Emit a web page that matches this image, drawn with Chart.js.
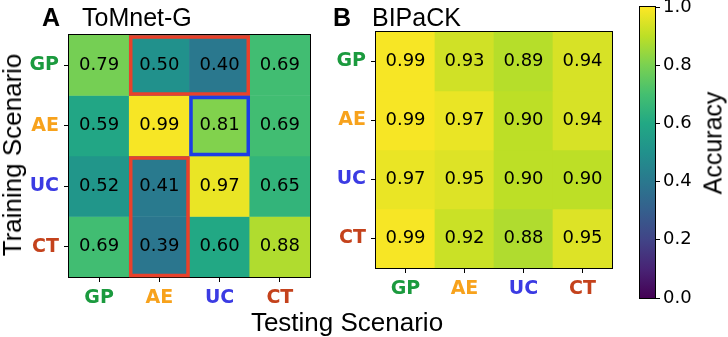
<!DOCTYPE html>
<html>
<head>
<meta charset="utf-8">
<script src="https://cdn.jsdelivr.net/npm/chart.js@4.4.1/dist/chart.umd.min.js"></script>
<style>
  body { margin: 0; background: #fff; }
  #wrap { position: relative; width: 728px; height: 337px; overflow: hidden; }
  canvas { position: absolute; top: 0; }
  .txt { position: absolute; font-family: "Liberation Sans", Arial, sans-serif; font-size: 25px; line-height: 25px; color: #000; white-space: nowrap; }
  .bold { font-weight: bold; }
  .rot { transform: translate(-50%, -50%) rotate(-90deg); }
</style>
</head>
<body>
<div id="wrap">
  <canvas id="chartA" width="320" height="337" style="left:0"></canvas>
  <canvas id="chartB" width="310" height="337" style="left:320px"></canvas>
  <canvas id="cbar" width="108" height="337" style="left:620px"></canvas>

  <div class="txt bold" style="left:42px; top:5px">A</div>
  <div class="txt" style="left:82px; top:5px">ToMnet-G</div>
  <div class="txt bold" style="left:333px; top:5px">B</div>
  <div class="txt" style="left:372px; top:5px">BIPaCK</div>
  <div class="txt rot" style="left:12px; top:155px; font-size:26px; line-height:26px">Training Scenario</div>
  <div class="txt" style="left:347px; top:309px; font-size:26px; line-height:26px; transform:translateX(-50%)">Testing Scenario</div>
  <div class="txt rot" style="left:713px; top:143px">Accuracy</div>
</div>
<script>
// scenarios on each axis
var testing = ['GP', 'AE', 'UC', 'CT'];
var training = ['GP', 'AE', 'UC', 'CT'];
var scenarioColors = ['#1b9a3e', '#f7a21c', '#3b3be3', '#c4421c'];

// accuracy, one row per training scenario
var tomnetAcc = [
    [0.79, 0.50, 0.40, 0.69],
    [0.59, 0.99, 0.81, 0.69],
    [0.52, 0.41, 0.97, 0.65],
    [0.69, 0.39, 0.60, 0.88]
];
var bipackAcc = [
    [0.99, 0.93, 0.89, 0.94],
    [0.99, 0.97, 0.90, 0.94],
    [0.97, 0.95, 0.90, 0.90],
    [0.99, 0.92, 0.88, 0.95]
];

// highlighted cell groups in ToMnet-G (row/col index ranges)
var highlights = [
    { rows: [0, 0], cols: [1, 2], kind: 'drop' },
    { rows: [2, 3], cols: [1, 1], kind: 'drop' },
    { rows: [1, 1], cols: [2, 2], kind: 'gain' }
];
var highlightColors = { drop: '#e9412b', gain: '#1c3de6' };

var cbarTicks = [0, 0.2, 0.4, 0.6, 0.8, 1.0];

// viridis colormap
var viridisStops = ['#440154', '#482475', '#414487', '#355f8d', '#2a788e', '#21918c',
                    '#22a884', '#44bf70', '#7ad151', '#bddf26', '#fde725'];
function hexToRgb(h) {
    return [parseInt(h.substr(1, 2), 16), parseInt(h.substr(3, 2), 16), parseInt(h.substr(5, 2), 16)];
}
function viridis(v) {
    v = Math.max(0, Math.min(1, v));
    var pos = v * (viridisStops.length - 1);
    var i = Math.min(Math.floor(pos), viridisStops.length - 2);
    var t = pos - i;
    var a = hexToRgb(viridisStops[i]), b = hexToRgb(viridisStops[i + 1]);
    var c = a.map(function (x, k) { return Math.round(x + (b[k] - x) * t); });
    return 'rgb(' + c.join(',') + ')';
}

Chart.defaults.font.family = '"DejaVu Sans", sans-serif';
Chart.defaults.color = '#000';

var framePlugin = {
    id: 'frame',
    afterDatasetsDraw: function (chart) {
        var a = chart.chartArea, ctx = chart.ctx;
        ctx.save();
        ctx.strokeStyle = '#000';
        ctx.lineWidth = 1;
        ctx.strokeRect(Math.round(a.left) - 0.5, Math.round(a.top) - 0.5,
                       Math.round(a.right - a.left) + 1, Math.round(a.bottom - a.top) + 1);
        ctx.restore();
    }
};

var cellTextPlugin = {
    id: 'cellText',
    afterDatasetsDraw: function (chart, args, opts) {
        var ctx = chart.ctx;
        var x = chart.scales.x, y = chart.scales.y;
        var half = (x.getPixelForValue(1) - x.getPixelForValue(0)) / 2;
        ctx.save();
        (opts.boxes || []).forEach(function (b) {
            var l = x.getPixelForValue(b.cols[0]) - half;
            var r = x.getPixelForValue(b.cols[1]) + half;
            var t = y.getPixelForValue(b.rows[0]);
            var bt = y.getPixelForValue(b.rows[1] + 1);
            ctx.strokeStyle = highlightColors[b.kind];
            ctx.lineWidth = 3.5;
            ctx.strokeRect(l + 1.5, t + 2, r - l - 3, bt - t - 3.5);
        });
        ctx.fillStyle = '#000';
        ctx.font = '18px "DejaVu Sans"';
        ctx.textAlign = 'center';
        ctx.textBaseline = 'middle';
        chart.data.datasets.forEach(function (ds, i) {
            chart.getDatasetMeta(i).data.forEach(function (bar, j) {
                var p = bar.getCenterPoint();
                ctx.fillText(ds.acc[j].toFixed(2), p.x, p.y);
            });
        });
        ctx.restore();
    }
};

function heatmap(id, acc, pad, yWidth, xHeight, boxes) {
    var datasets = training.map(function (name, r) {
        return {
            label: name,
            acc: acc[r],
            data: testing.map(function () { return [r, r + 1]; }),
            backgroundColor: acc[r].map(viridis),
            borderWidth: 0,
            grouped: false,
            barPercentage: 1,
            categoryPercentage: 1
        };
    });
    return new Chart(document.getElementById(id).getContext('2d'), {
        type: 'bar',
        data: { labels: testing, datasets: datasets },
        options: {
            responsive: false,
            animation: false,
            layout: { padding: pad },
            plugins: { legend: { display: false }, tooltip: { enabled: false }, cellText: { boxes: boxes } },
            scales: {
                x: {
                    grid: { offset: false, drawOnChartArea: false, tickLength: 5, color: '#000' },
                    border: { display: false },
                    ticks: {
                        padding: 5,
                        font: { size: 19, weight: 'bold' },
                        color: function (c) { return scenarioColors[c.index]; }
                    },
                    afterFit: function (s) { s.height = xHeight; s.paddingLeft = 0; s.paddingRight = 0; }
                },
                y: {
                    min: 0, max: 4, reverse: true,
                    grid: { drawOnChartArea: false, tickLength: 5, color: '#000' },
                    border: { display: false },
                    afterBuildTicks: function (s) {
                        s.ticks = training.map(function (n, i) { return { value: i + 0.5 }; });
                    },
                    ticks: {
                        padding: 5,
                        font: { size: 19, weight: 'bold' },
                        color: function (c) { return scenarioColors[c.index]; },
                        callback: function (v) { return training[Math.floor(v)]; }
                    },
                    afterFit: function (s) { s.width = yWidth; s.paddingTop = 0; s.paddingBottom = 0; }
                }
            }
        },
        plugins: [framePlugin, cellTextPlugin]
    });
}

heatmap('chartA', tomnetAcc, { left: 25, top: 35, right: 10, bottom: 0 }, 44, 60, highlights);
heatmap('chartB', bipackAcc, { left: 10, top: 32, right: 18, bottom: 0 }, 46, 69, []);

// colorbar
var gradientPlugin = {
    id: 'gradient',
    beforeDatasetsDraw: function (chart) {
        var a = chart.chartArea, y = chart.scales.y, ctx = chart.ctx;
        var y0 = y.getPixelForValue(0), y1 = y.getPixelForValue(1);
        var g = ctx.createLinearGradient(0, y0, 0, y1);
        viridisStops.forEach(function (c, i) { g.addColorStop(i / (viridisStops.length - 1), c); });
        ctx.save();
        ctx.fillStyle = g;
        ctx.fillRect(a.left, y1, a.right - a.left, y0 - y1);
        ctx.restore();
    }
};

new Chart(document.getElementById('cbar').getContext('2d'), {
    type: 'scatter',
    data: { datasets: [] },
    options: {
        responsive: false,
        animation: false,
        layout: { padding: { left: 20, top: 7, right: 0, bottom: 39 } },
        plugins: { legend: { display: false }, tooltip: { enabled: false } },
        scales: {
            x: { display: false, min: 0, max: 1 },
            y: {
                position: 'right',
                min: 0, max: 1,
                grid: { drawOnChartArea: false, tickLength: 5, color: '#000' },
                border: { display: false },
                afterBuildTicks: function (s) {
                    s.ticks = cbarTicks.map(function (v) { return { value: v }; });
                },
                ticks: {
                    padding: 3,
                    font: { size: 18 },
                    callback: function (v) { return v.toFixed(1); }
                },
                afterFit: function (s) { s.width = 73; s.paddingTop = 0; s.paddingBottom = 0; }
            }
        }
    },
    plugins: [gradientPlugin, framePlugin]
});
</script>
</body>
</html>
